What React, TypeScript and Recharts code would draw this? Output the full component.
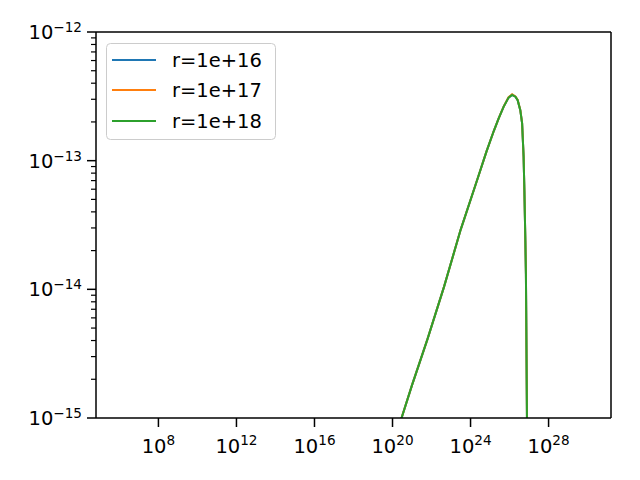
import React from 'react';
import { LineChart, Line, XAxis, YAxis, Legend, ReferenceLine } from 'recharts';

// x values (log-spaced samples)
const xValues = [
  1e6, 1e8, 1e10, 1e12, 1e14, 1e16, 1e18, 1e20, 2.9e20, 1e21, 6.2e21, 4.4e22,
  3.1e23, 2.2e24, 6.6e24, 1.55e25, 2.8e25, 5.0e25, 8.9e25, 1.35e26, 2.0e26, 2.6e26,
  3.55e26, 4.4e26, 5.25e26, 5.75e26, 6.45e26, 6.9e26, 7.2e26, 7.8e26, 8.9e26,
];
const yR16 = [
  3.2e-22, 2.5e-21, 2.0e-20, 1.6e-19, 1.3e-18, 1.0e-17, 7.9e-17, 6.2e-16, 1.0e-15,
  1.8e-15, 4.1e-15, 1.05e-14, 2.9e-14, 7.1e-14, 1.18e-13, 1.70e-13, 2.14e-13, 2.63e-13,
  3.09e-13, 3.25e-13, 3.14e-13, 2.95e-13, 2.47e-13, 1.95e-13, 1.07e-13, 5.9e-14,
  2.4e-14, 1.3e-14, 5.5e-15, 1.0e-15, 1e-18,
];
const yR17 = [
  3.2e-22, 2.5e-21, 2.0e-20, 1.6e-19, 1.3e-18, 1.0e-17, 7.9e-17, 6.2e-16, 1.0e-15,
  1.8e-15, 4.1e-15, 1.05e-14, 2.9e-14, 7.1e-14, 1.18e-13, 1.70e-13, 2.14e-13, 2.64e-13,
  3.11e-13, 3.28e-13, 3.16e-13, 2.97e-13, 2.48e-13, 1.96e-13, 1.07e-13, 5.9e-14,
  2.4e-14, 1.3e-14, 5.5e-15, 1.0e-15, 1e-18,
];
const yR18 = [
  3.2e-22, 2.5e-21, 2.0e-20, 1.6e-19, 1.3e-18, 1.0e-17, 7.9e-17, 6.2e-16, 1.0e-15,
  1.8e-15, 4.1e-15, 1.05e-14, 2.9e-14, 7.1e-14, 1.18e-13, 1.70e-13, 2.14e-13, 2.63e-13,
  3.09e-13, 3.24e-13, 3.14e-13, 2.95e-13, 2.47e-13, 1.95e-13, 1.07e-13, 5.9e-14,
  2.4e-14, 1.3e-14, 5.5e-15, 1.0e-15, 1e-18,
];
const seriesNames = ['r=1e+16', 'r=1e+17', 'r=1e+18'];
const seriesKeys = ['r16', 'r17', 'r18'];
const seriesColors = ['#1f77b4', '#ff7f0e', '#2ca02c'];

const xTicks = [1e8, 1e12, 1e16, 1e20, 1e24, 1e28];
const xTickExps = ['8', '12', '16', '20', '24', '28'];
const xDomain = [6.31e4, 1.585e31];

const yMajorTicks = [1e-15, 1e-14, 1e-13, 1e-12];
const yTickExps = ['\u221215', '\u221214', '\u221213', '\u221212'];
const yMinorTicks = [
  2e-15, 3e-15, 4e-15, 5e-15, 6e-15, 7e-15, 8e-15, 9e-15,
  2e-14, 3e-14, 4e-14, 5e-14, 6e-14, 7e-14, 8e-14, 9e-14,
  2e-13, 3e-13, 4e-13, 5e-13, 6e-13, 7e-13, 8e-13, 9e-13,
];
const yDomain = [1e-15, 1e-12];

const data = xValues.map((x, i) => ({ x, r16: yR16[i], r17: yR17[i], r18: yR18[i] }));
const yAllTicks = [...yMajorTicks, ...yMinorTicks].sort((a, b) => a - b);

const FONT = 'DejaVu Sans, sans-serif';
const FS = 19.5;
const SUP = 13.6;

const sameVal = (a: number, b: number) => Math.abs(Math.log10(a) - Math.log10(b)) < 1e-6;

const XTick = (props: any) => {
  const { x, y, payload } = props;
  const idx = xTicks.findIndex((t) => sameVal(t, payload.value));
  return (
    <g>
      <line x1={x} x2={x} y1={y} y2={y + 9} stroke="#000" strokeWidth={1.5} />
      {idx >= 0 && (
        <text x={x} y={y + 35} textAnchor="middle" fontSize={FS} fontFamily={FONT} fill="#000">
          <tspan>10</tspan>
          <tspan dy={-8} fontSize={SUP}>{xTickExps[idx]}</tspan>
        </text>
      )}
    </g>
  );
};

const YTick = (props: any) => {
  const { x, y, payload } = props;
  const idx = yMajorTicks.findIndex((t) => sameVal(t, payload.value));
  const major = idx >= 0;
  return (
    <g>
      <line x1={x} x2={x - (major ? 9 : 5)} y1={y} y2={y} stroke="#000" strokeWidth={major ? 1.5 : 1.2} />
      {major && (
        <text x={x - 14} y={y + 7} textAnchor="end" fontSize={FS} fontFamily={FONT} fill="#000">
          <tspan>10</tspan>
          <tspan dy={-7} fontSize={SUP}>{yTickExps[idx]}</tspan>
        </text>
      )}
    </g>
  );
};

const LegendBox = () => {
  const rows = [17, 47, 78];
  return (
    <svg width={171} height={98} style={{ display: 'block' }}>
      <rect x={0.5} y={0.5} width={169} height={96} rx={4} ry={4} fill="#fff" fillOpacity={0.8} stroke="#cccccc" strokeWidth={1} />
      {seriesNames.map((name, i) => (
        <g key={name}>
          <line x1={6} x2={50} y1={rows[i]} y2={rows[i]} stroke={seriesColors[i]} strokeWidth={2} />
          <text x={66} y={rows[i] + 7} fontSize={FS} fontFamily={FONT} fill="#000">{name}</text>
        </g>
      ))}
    </svg>
  );
};

export default function App() {
  return (
    <div style={{ position: 'absolute', left: 0, top: 0, width: 640, height: 480, background: '#fff' }}>
      <LineChart width={640} height={480} data={data} margin={{ top: 32, right: 29, bottom: 0, left: 0 }}>
        <XAxis
          dataKey="x"
          type="number"
          scale="log"
          domain={xDomain}
          allowDataOverflow
          ticks={xTicks}
          interval={0}
          tick={<XTick />}
          tickLine={false}
          tickSize={0}
          tickMargin={0}
          height={62}
          axisLine={{ stroke: '#000', strokeWidth: 1.5 }}
        />
        <YAxis
          type="number"
          scale="log"
          domain={yDomain}
          allowDataOverflow
          ticks={yAllTicks}
          interval={0}
          tick={<YTick />}
          tickLine={false}
          tickSize={0}
          tickMargin={0}
          width={96}
          axisLine={{ stroke: '#000', strokeWidth: 1.5 }}
        />
        {seriesKeys.map((k, i) => (
          <Line
            key={k}
            dataKey={k}
            name={seriesNames[i]}
            stroke={seriesColors[i]}
            strokeWidth={2}
            dot={false}
            activeDot={false}
            isAnimationActive={false}
          />
        ))}
        <ReferenceLine y={yDomain[1]} stroke="#000" strokeWidth={1.5} ifOverflow="visible" />
        <ReferenceLine x={xDomain[1]} stroke="#000" strokeWidth={1.5} ifOverflow="visible" />
        <Legend
          layout="vertical"
          align="center"
          verticalAlign="middle"
          content={<LegendBox />}
          wrapperStyle={{ position: 'absolute', left: 106, top: 43, width: 171, height: 98, margin: 0 }}
        />
      </LineChart>
    </div>
  );
}
